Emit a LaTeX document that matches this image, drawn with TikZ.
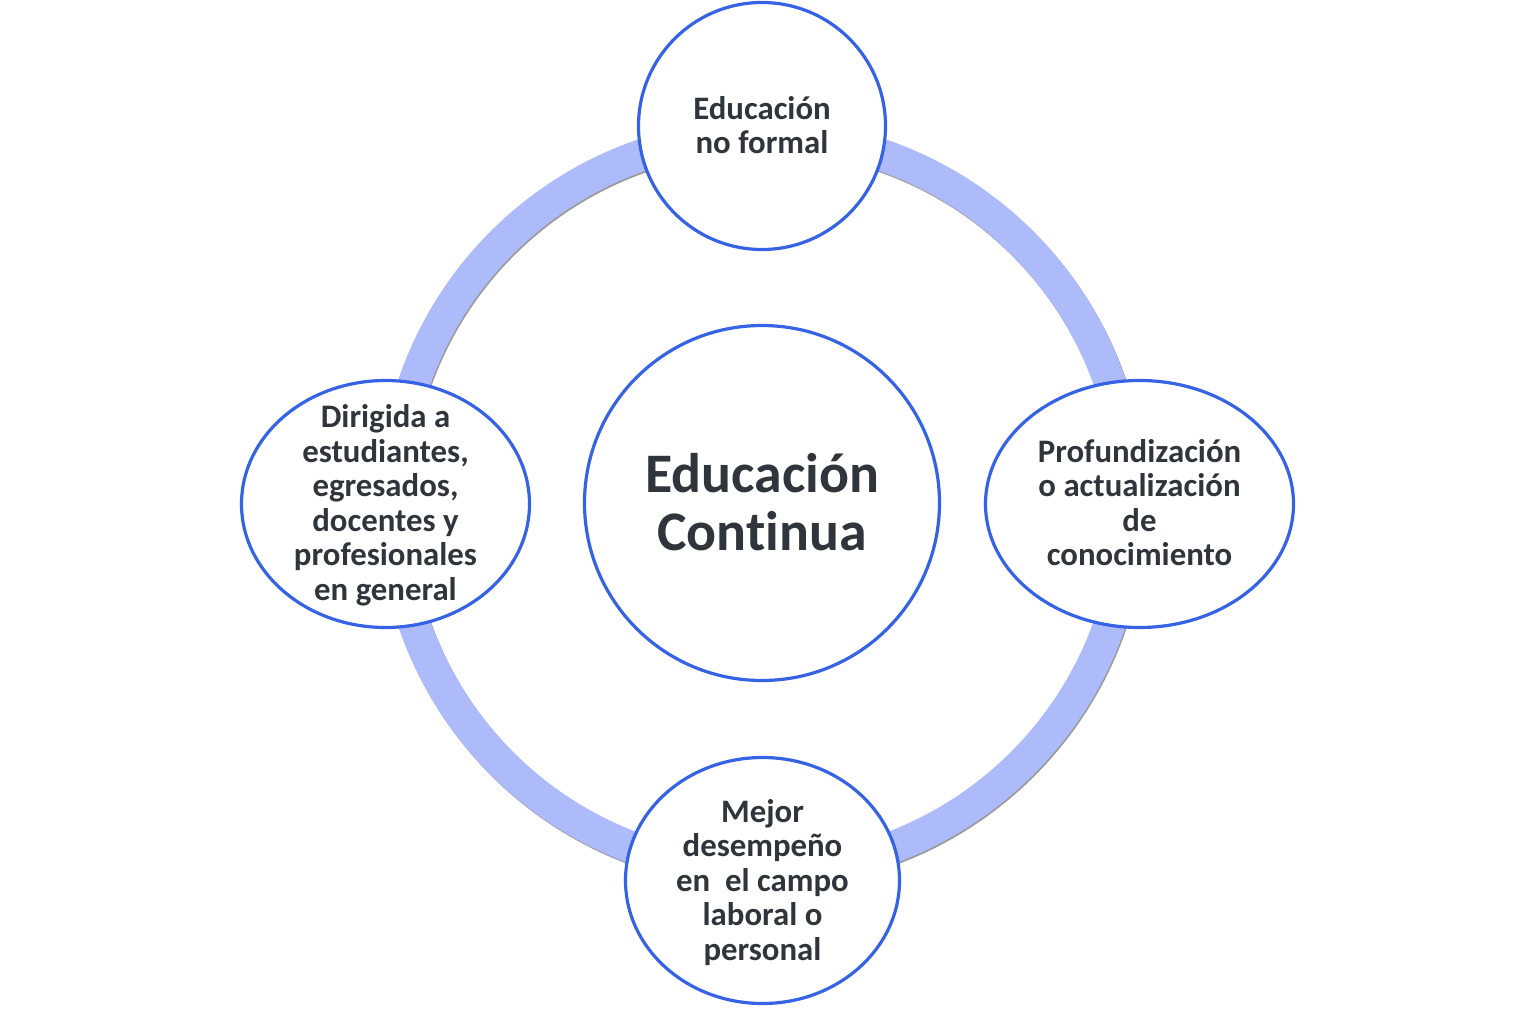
\documentclass[tikz,border=0pt]{standalone}
\usepackage{fontspec}
\setmainfont{Carlito}[Ligatures=NoCommon]
\usetikzlibrary{shapes.geometric}
\definecolor{ringBlue}{HTML}{AEBBFB}
\definecolor{edgeBlue}{HTML}{3563E4}
\definecolor{textGray}{HTML}{30343B}

\begin{document}
\begin{tikzpicture}[x=0.5pt,y=-0.5pt,
  ring/.style={draw=ringBlue, line width=16pt},
  ringshadow/.style={draw=black!40, line width=16pt},
  bubble/.style={circle, draw=edgeBlue, line width=1.6pt, fill=white, inner sep=0pt},
  oval/.style={ellipse, draw=edgeBlue, line width=1.6pt, fill=white, inner sep=0pt},
  txt/.style={align=center, text=textGray, inner sep=0pt,
    font=\bfseries\fontsize{16.4}{17.25}\selectfont},
  bigtxt/.style={txt, font=\bfseries\fontsize{27.9}{29}\selectfont}]

\useasboundingbox (0,0) rectangle (1536,1011);

% Ring behind the bubbles, with a faint shadow
\draw[ringshadow] (763,504.5) circle[radius=368];
\draw[ring] (762,503) circle[radius=368];

% Position the bubbles at coordinates
\node[bubble, minimum size=177.5pt] (centro) at (762,503) {};
\node[bubble, minimum size=123.5pt] (noFormal) at (762,126) {};
\node[oval, minimum width=144pt, minimum height=123.5pt] (dirigida) at (385.5,504) {};
\node[oval, minimum width=154pt, minimum height=123.5pt] (profundizacion) at (1139.5,504) {};
\node[oval, minimum width=137pt, minimum height=123pt] (desempeno) at (762.5,880.5) {};

% Texts inside the bubbles
\node[bigtxt] (centroTxt) at (762,502) {Educación\\Continua};
\node[txt] (noFormalTxt) at (762,125) {Educación\\no formal};
\node[txt] (dirigidaTxt) at (385.5,505.5) {Dirigida a\\estudiantes,\\egresados,\\docentes y\\profesionales\\en general};
\node[txt] (profundizacionTxt) at (1139.5,502.5) {Profundización\\o actualización\\de\\conocimiento};
\node[txt] (desempenoTxt) at (762.5,882.5) {Mejor\\desempeño\\en~ el campo\\laboral o\\personal};

\end{tikzpicture}
\end{document}
